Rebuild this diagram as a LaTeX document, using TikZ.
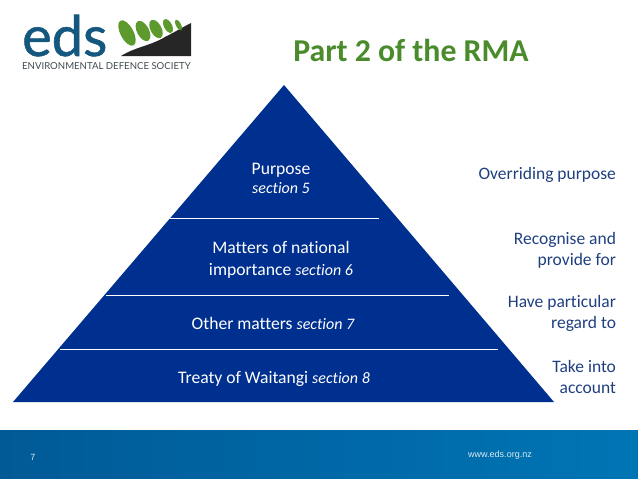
\documentclass[tikz,border=0pt]{standalone}
\usepackage{fontspec}
\setmainfont{Carlito}[Ligatures=NoCommon]
\newfontfamily\logofont{Lato}[FakeBold=1]
\newfontfamily\logoname{Lato}
\newfontfamily\footfont{Liberation Sans}
\definecolor{pyrblue}{HTML}{00308F}
\definecolor{headgreen}{HTML}{4A8B2C}
\definecolor{sidetext}{HTML}{1F3F80}
\definecolor{logoblue}{HTML}{14577F}
\definecolor{logogreen}{HTML}{5C9A2E}
\definecolor{logogrey}{HTML}{3F4A4F}
\definecolor{footleft}{HTML}{005A96}
\definecolor{footright}{HTML}{0075B5}
\tikzset{
  pyrtext/.style={text=white,font=\fontsize{17.6}{22}\selectfont,align=center},
  sidenote/.style={text=sidetext,font=\fontsize{17.5}{21}\selectfont,align=right,anchor=east},
  divider/.style={draw=white,line width=0.8pt},
  leaf/.style={fill=logogreen,draw=none},
  foottext/.style={text=white!85!footright,font=\footfont\fontsize{9}{11}\selectfont}
}
\newcommand{\secref}[1]{{\fontsize{16}{18}\selectfont\itshape section #1}}
\begin{document}
\begin{tikzpicture}[x=1pt,y=-1pt]
\useasboundingbox (0,0) rectangle (638,479);
% footer band
\shade[left color=footleft,right color=footright,shading angle=90] (0,430) rectangle (638,478);
\node[foottext] (pagenum) at (33,457) {7};
\node[foottext] (website) at (500,455) {www.eds.org.nz};
% logo
\node[text=logoblue,font=\logofont\fontsize{56}{56}\selectfont,anchor=base west,inner sep=0pt] (edsword) at (22,56) {eds};
\node[text=logogrey,font=\logoname\fontsize{9.6}{10}\selectfont,anchor=west,inner sep=0pt] (edsname) at (22,66) {ENVIRONMENTAL DEFENCE SOCIETY};
\fill[black!85] (121,56) .. controls (135,47) and (150,46) .. (165,37) .. controls (175,32) and (183,27) .. (191,23) -- (191,56) -- cycle;
\fill[leaf,rotate around={-62:(127,33)}] (127,33) ellipse (14 and 6.5);
\fill[leaf,rotate around={-62:(143,31)}] (143,31) ellipse (11 and 6);
\fill[leaf,rotate around={-62:(156,29)}] (156,29) ellipse (10 and 5.5);
\fill[leaf,rotate around={-62:(168,26)}] (168,26) ellipse (7.5 and 4);
\fill[leaf,rotate around={-62:(178.5,25)}] (178.5,25) ellipse (6 and 2.5);
% heading
\node[text=headgreen,font=\bfseries\fontsize{31.8}{36}\selectfont] (heading) at (411,50) {Part 2 of the RMA};
% pyramid
\coordinate (apex) at (284,85);
\coordinate (baseL) at (13,402);
\coordinate (baseR) at (554,402);
\fill[pyrblue] (apex) -- (baseR) -- (baseL) -- cycle;
\coordinate (d1L) at (170,218);
\coordinate (d1R) at (379,218);
\coordinate (d2L) at (106,295);
\coordinate (d2R) at (449,295);
\coordinate (d3L) at (60,349);
\coordinate (d3R) at (498,349);
\draw[divider] (d1L) -- (d1R);
\draw[divider] (d2L) -- (d2R);
\draw[divider] (d3L) -- (d3R);
\node[pyrtext] (purpose) at (281,178) {Purpose\\[-3pt]\secref{5}};
\node[pyrtext] (national) at (281,260) {Matters of national\\importance \secref{6}};
\node[pyrtext] (other) at (273,323) {Other matters \secref{7}};
\node[pyrtext] (treaty) at (274,379) {Treaty of Waitangi \secref{8}};
% side notes
\node[sidenote] (overriding) at (619.5,175) {Overriding purpose};
\node[sidenote] (recognise) at (619.5,250) {Recognise and\\provide for};
\node[sidenote] (regard) at (619.5,313) {Have particular\\regard to};
\node[sidenote] (account) at (619.5,377) {Take into\\account};
\end{tikzpicture}
\end{document}
